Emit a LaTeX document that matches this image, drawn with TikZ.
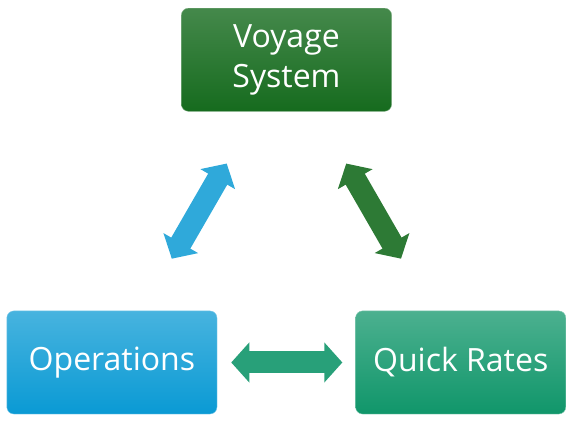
\documentclass[tikz,border=0pt]{standalone}
\usepackage{fontspec}
\setmainfont{Open Sans}
\usepackage{xcolor}
\usetikzlibrary{arrows.meta,positioning,calc}

\definecolor{voygreen}{HTML}{166B1E}
\definecolor{opsblue}{HTML}{0A9AD4}
\definecolor{qrgreen}{HTML}{10966A}

\begin{document}
\begin{tikzpicture}[
    font=\fontsize{32}{40}\selectfont,
    box/.style={rectangle, rounded corners=7pt, minimum width=210pt, minimum height=103pt, align=center, text=white, inner sep=0pt},
    voybox/.style={box, top color=voygreen!80!white, bottom color=voygreen, draw=voygreen!55!white},
    opsbox/.style={box, top color=opsblue!75!white, bottom color=opsblue, draw=opsblue!50!white},
    qrbox/.style={box, top color=qrgreen!75!white, bottom color=qrgreen, draw=qrgreen!50!white},
    link/.style={line width=22pt, {Triangle[width=39pt,length=18pt]}-{Triangle[width=39pt,length=18pt]}}
]
    \node[voybox] (voy) {Voyage\\System};
    \node[opsbox, below left=199pt and -36pt of voy] (ops) {Operations};
    \node[qrbox, right=138pt of ops] (qr) {Quick Rates};

    % margins of the page
    \path[use as bounding box] ($(voy.north west)+(-181pt,8pt)$) rectangle ($(qr.south east)+(7pt,-8pt)$);

    % links between the systems
    \draw[link, draw=opsblue!85!white, shorten <=60pt, shorten >=60pt] (ops) -- (voy);
    \draw[link, draw=voygreen!90!white, shorten <=60pt, shorten >=60pt] (voy) -- (qr);
    \draw[link, draw=qrgreen!90!white, shorten <=14pt, shorten >=13pt] (ops) -- (qr);
\end{tikzpicture}
\end{document}
